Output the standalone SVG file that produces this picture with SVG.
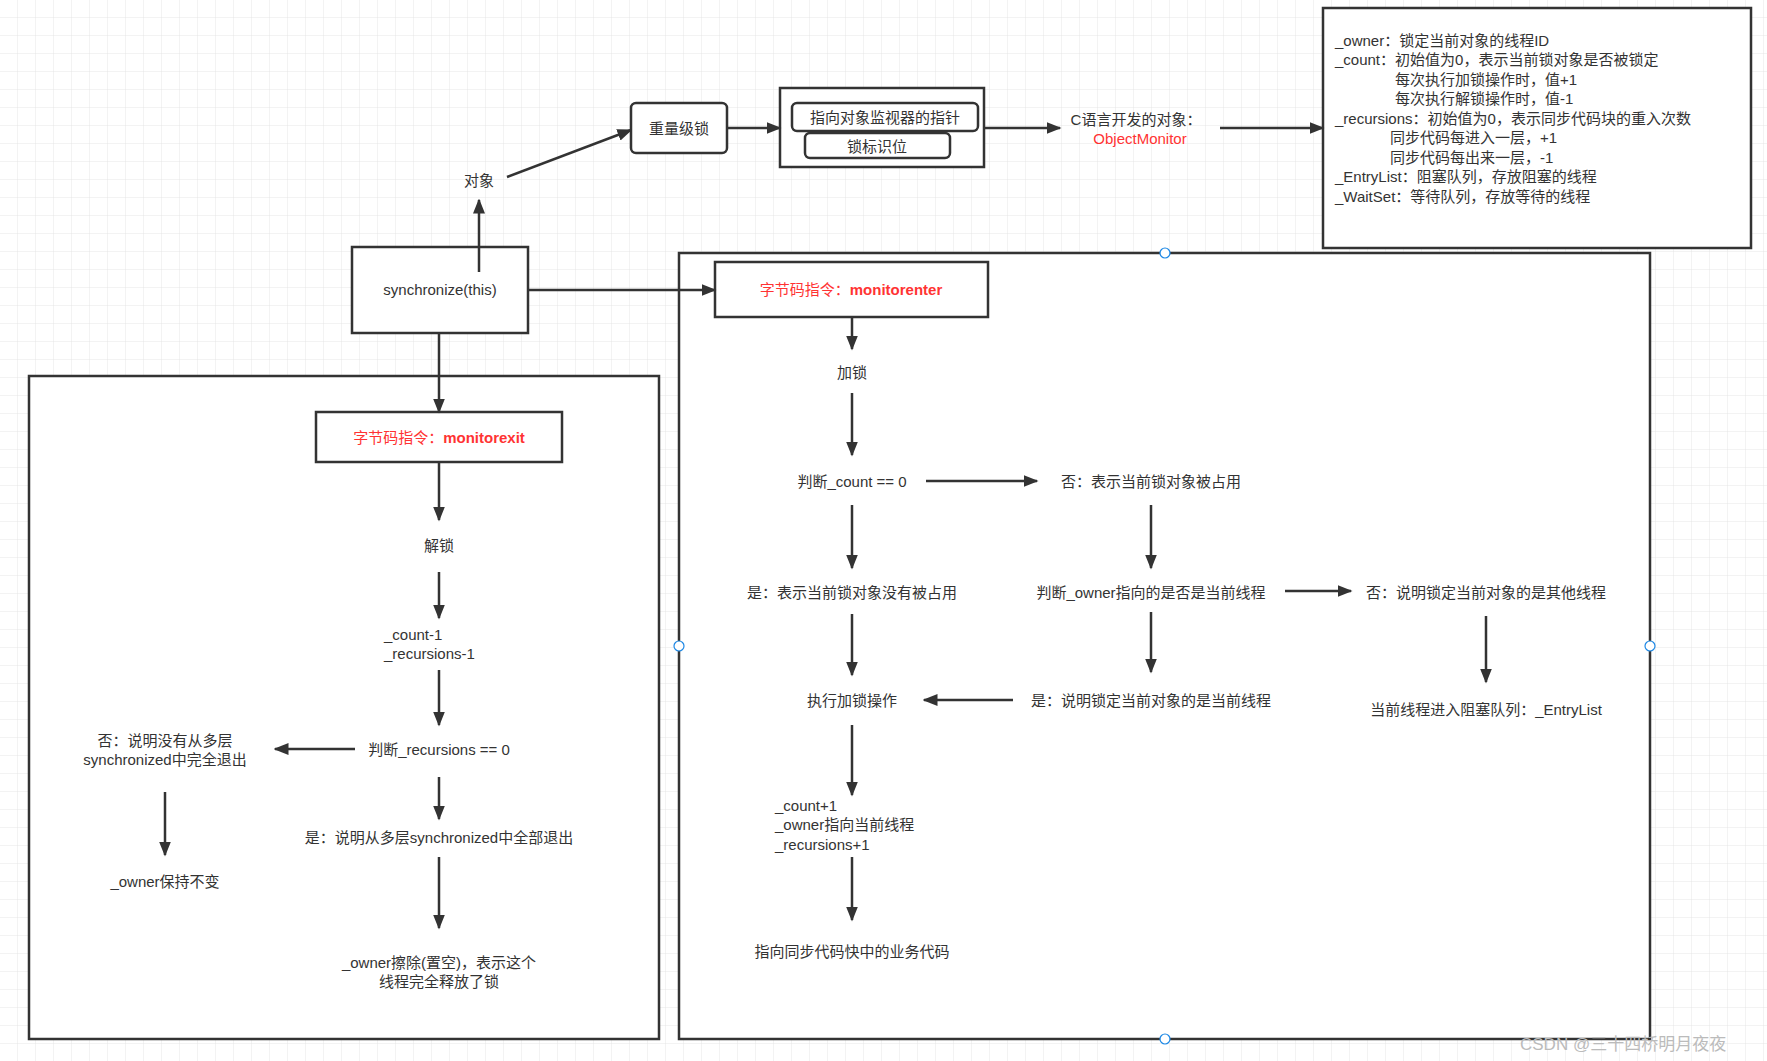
<svg xmlns="http://www.w3.org/2000/svg" width="1767" height="1061" viewBox="0 0 1767 1061">
<style>
text{font-family:"Liberation Sans","Noto Sans CJK SC",sans-serif;font-size:15px;fill:#333}
.c{text-anchor:middle}
.r{fill:#ff3333}
.b{font-weight:bold}
.box{fill:#fff;stroke:#333;stroke-width:2.5}
.ln{stroke:#333;stroke-width:2.5;fill:none}
.arr{stroke:#333;stroke-width:2.5;fill:none;marker-end:url(#ah)}
.h{fill:#fff;stroke:#1e88e5;stroke-width:1.2}
</style>
<defs>
<pattern id="g" width="18" height="18" patternUnits="userSpaceOnUse"><path d="M18 0V18H0" fill="none" stroke="#e6e6e6" stroke-width="1"/></pattern>
<marker id="ah" viewBox="0 0 10 10" refX="9" refY="5" markerWidth="6" markerHeight="6" orient="auto" markerUnits="strokeWidth"><path d="M0 1L10 5L0 9z" fill="#333"/></marker>
</defs>
<rect width="1767" height="1061" fill="#fff"/>
<rect width="1767" height="1061" fill="url(#g)"/>

<g id="left-container"><rect class="box" x="29" y="376" width="630" height="663"/></g>
<g id="right-container"><rect class="box" x="679" y="253" width="971" height="786"/>
<circle class="h" cx="1165" cy="253" r="5"/><circle class="h" cx="679" cy="646" r="5"/><circle class="h" cx="1650" cy="646" r="5"/><circle class="h" cx="1165" cy="1039" r="5"/></g>

<g id="info"><rect class="box" x="1323" y="8" width="428" height="240"/>
<text x="1335" y="46">_owner：锁定当前对象的线程ID</text>
<text x="1335" y="65">_count：初始值为0，表示当前锁对象是否被锁定</text>
<text x="1395" y="85">每次执行加锁操作时，值+1</text>
<text x="1395" y="104">每次执行解锁操作时，值-1</text>
<text x="1335" y="124">_recursions：初始值为0，表示同步代码块的重入次数</text>
<text x="1390" y="143">同步代码每进入一层，+1</text>
<text x="1390" y="163">同步代码每出来一层，-1</text>
<text x="1335" y="182">_EntryList：阻塞队列，存放阻塞的线程</text>
<text x="1335" y="202">_WaitSet：等待队列，存放等待的线程</text></g>

<g id="heavy"><rect class="box" x="631" y="103" width="96" height="50" rx="5"/><text class="c" x="679" y="134">重量级锁</text></g>
<g id="markword"><rect class="box" x="780" y="88" width="204" height="79"/>
<rect class="box" x="792" y="103" width="186" height="28" rx="5"/><text class="c" x="885" y="123">指向对象监视器的指针</text>
<rect class="box" x="805" y="133" width="145" height="25" rx="5"/><text class="c" x="877" y="152">锁标识位</text></g>
<g id="cobj"><text class="c" x="1136" y="125">C语言开发的对象：</text><text class="c r" x="1140" y="144">ObjectMonitor</text></g>
<g id="obj"><text class="c" x="479" y="186">对象</text></g>
<g id="sync"><rect class="box" x="352" y="247" width="176" height="86"/><text class="c" x="440" y="295">synchronize(this)</text></g>
<g id="menter"><rect class="box" x="715" y="262" width="273" height="55"/><text class="c r" x="851" y="295">字节码指令：<tspan class="b">monitorenter</tspan></text></g>
<g id="mexit"><rect class="box" x="316" y="412" width="246" height="50"/><text class="c r" x="439" y="443">字节码指令：<tspan class="b">monitorexit</tspan></text></g>

<g id="unlock"><text class="c" x="439" y="551">解锁</text></g>
<g id="dec"><text x="384" y="640">_count-1</text><text x="384" y="659">_recursions-1</text></g>
<g id="judgerec"><text class="c" x="439" y="755">判断_recursions == 0</text></g>
<g id="no1"><text class="c" x="165" y="746">否：说明没有从多层</text><text class="c" x="165" y="765">synchronized中完全退出</text></g>
<g id="keep"><text class="c" x="165" y="887">_owner保持不变</text></g>
<g id="yes1"><text class="c" x="439" y="843">是：说明从多层synchronized中全部退出</text></g>
<g id="erase"><text class="c" x="439" y="968">_owner擦除(置空)，表示这个</text><text class="c" x="439" y="987">线程完全释放了锁</text></g>

<g id="lock"><text class="c" x="852" y="378">加锁</text></g>
<g id="judgecount"><text class="c" x="852" y="487">判断_count == 0</text></g>
<g id="occupied"><text class="c" x="1151" y="487">否：表示当前锁对象被占用</text></g>
<g id="free"><text class="c" x="852" y="598">是：表示当前锁对象没有被占用</text></g>
<g id="judgeowner"><text class="c" x="1151" y="598">判断_owner指向的是否是当前线程</text></g>
<g id="other"><text class="c" x="1486" y="598">否：说明锁定当前对象的是其他线程</text></g>
<g id="entry"><text class="c" x="1486" y="715">当前线程进入阻塞队列：_EntryList</text></g>
<g id="dolock"><text class="c" x="852" y="706">执行加锁操作</text></g>
<g id="same"><text class="c" x="1151" y="706">是：说明锁定当前对象的是当前线程</text></g>
<g id="inc"><text x="775" y="811">_count+1</text><text x="775" y="830">_owner指向当前线程</text><text x="775" y="850">_recursions+1</text></g>
<g id="biz"><text class="c" x="852" y="957">指向同步代码快中的业务代码</text></g>

<g id="connectors">
<path class="arr" d="M479 272V200"/>
<path class="arr" d="M507 177L631 130"/>
<path class="arr" d="M727 128H780"/>
<path class="arr" d="M984 128H1060"/>
<path class="arr" d="M1220 128H1323"/>
<path class="arr" d="M528 290H715"/>
<path class="arr" d="M439 333V412"/>
<path class="arr" d="M439 462V520"/>
<path class="arr" d="M439 572V618"/>
<path class="arr" d="M439 670V725"/>
<path class="arr" d="M355 749H275"/>
<path class="arr" d="M165 792V855"/>
<path class="arr" d="M439 777V819"/>
<path class="arr" d="M439 857V928"/>
<path class="arr" d="M852 317V349"/>
<path class="arr" d="M852 393V455"/>
<path class="arr" d="M926 481H1037"/>
<path class="arr" d="M852 505V568"/>
<path class="arr" d="M1151 505V568"/>
<path class="arr" d="M1285 591H1351"/>
<path class="arr" d="M1486 616V682"/>
<path class="arr" d="M852 614V675"/>
<path class="arr" d="M1151 612V672"/>
<path class="arr" d="M1013 700H924"/>
<path class="arr" d="M852 725V795"/>
<path class="arr" d="M852 857V920"/>
</g>
<text x="1520" y="1050" style="fill:#bbb;font-size:17px">CSDN @三十四桥明月夜夜</text>
</svg>
